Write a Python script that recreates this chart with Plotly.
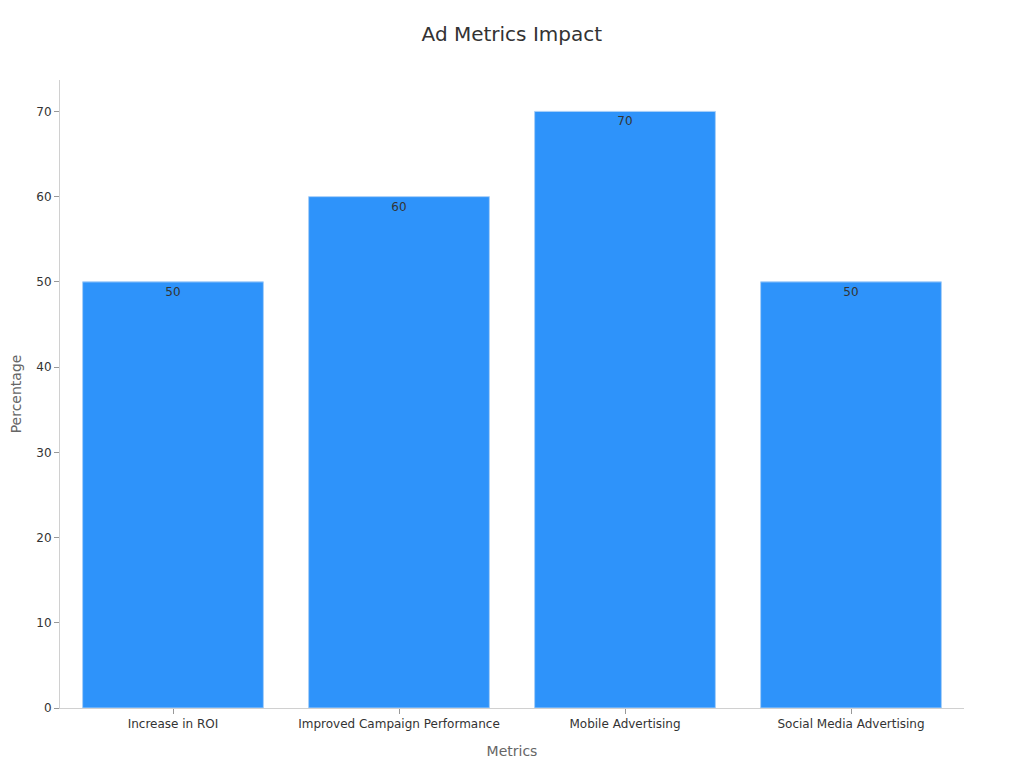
import plotly.graph_objects as go

# Chart data
metrics = ["Increase in ROI", "Improved Campaign Performance", "Mobile Advertising", "Social Media Advertising"]
percentages = [50, 60, 70, 50]

fig = go.Figure()

fig.add_trace(go.Bar(
    x=metrics, y=percentages,
    marker=dict(color="#2E93FA", line=dict(color="#A8CFF8", width=1)),
    text=percentages, textposition="inside", insidetextanchor="end",
    textfont=dict(color="#333333", size=12),
    showlegend=False,
))

fig.update_layout(
    width=1024, height=768,
    template="plotly_white",
    font=dict(family="DejaVu Sans", color="#333333"),
    title=dict(text="Ad Metrics Impact", x=0.492, xanchor="center", y=0.975,
               font=dict(size=20, color="#333333")),
    margin=dict(l=52, r=68, t=72, b=68),
    bargap=0.2,
    plot_bgcolor="white", paper_bgcolor="white",
)
fig.update_xaxes(
    title_text="Metrics", title_font=dict(size=14, color="#666666"),
    showline=True, linecolor="#D0D0D0", linewidth=1,
    ticks="outside", tickcolor="#999999", ticklen=5,
    tickfont=dict(size=12, color="#333333"),
    showgrid=False, automargin=False,
)
fig.update_yaxes(
    title_text="Percentage", title_font=dict(size=14, color="#666666"),
    showline=True, linecolor="#D0D0D0", linewidth=1,
    ticks="outside", tickcolor="#999999", ticklen=5,
    tickfont=dict(size=12, color="#333333"),
    showgrid=False, zeroline=False, dtick=10, automargin=False,
)

fig.write_html("out.html")
